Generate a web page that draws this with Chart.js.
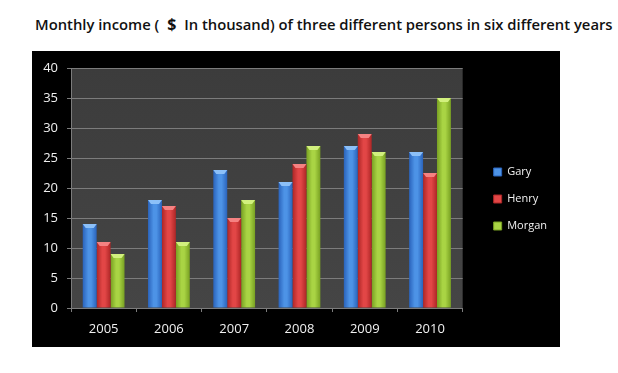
<!DOCTYPE html>
<html>
<head>
<meta charset="utf-8">
<script src="https://cdn.jsdelivr.net/npm/chart.js@4"></script>
<style>
    html, body { margin: 0; padding: 0; background: #fff; }
    body { width: 618px; height: 373px; position: relative; overflow: hidden; }
    #titulo {
        position: absolute; left: 35px; top: 14px;
        font-family: 'Open Sans', sans-serif; font-weight: 600; font-size: 14.8px;
        color: #111; white-space: nowrap; line-height: 20px;
    }
    #titulo .dolar { font-size: 16px; font-weight: 700; margin: 0 4px; }
    #caja {
        position: absolute; left: 32px; top: 51px; width: 528px; height: 296px;
        background: #000;
    }
</style>
</head>
<body>
<div id="titulo">Monthly income ( <span class="dolar">$</span> In thousand) of three different persons in six different years</div>
<div id="caja"><canvas id="chart-ingresos" width="528" height="296"></canvas></div>
<script>
// ============================================
// DATOS
// ============================================

const anios = ['2005', '2006', '2007', '2008', '2009', '2010'];
const gary = [14, 18, 23, 21, 27, 26];
const henry = [11, 17, 15, 24, 29, 22.5];
const morgan = [9, 11, 18, 27, 26, 35];
const ticksY = [0, 5, 10, 15, 20, 25, 30, 35, 40];

// ============================================
// COLORES
// ============================================

const colores = {
    gary:   { base: '#4d93e6', oscuro: '#2a63bb', claro: '#8cc0f8' },
    henry:  { base: '#e24646', oscuro: '#ad2626', claro: '#f58282' },
    morgan: { base: '#a9d444', oscuro: '#78a022', claro: '#d2f07e' },
    texto: '#f0f0f0',
    grid: '#7c7c7c'
};

// Fondo gris del area de trazado
const fondoPlot = {
    id: 'fondoPlot',
    beforeDraw(chart) {
        const { ctx, chartArea: a } = chart;
        const g = ctx.createLinearGradient(0, a.top, 0, a.bottom);
        g.addColorStop(0, '#3c3c3c');
        g.addColorStop(1, '#454545');
        ctx.save();
        ctx.fillStyle = g;
        ctx.fillRect(a.left, a.top, a.right - a.left, a.bottom - a.top);
        ctx.restore();
    }
};

// Degradado horizontal en cada barra + tapa biselada
const barras3d = {
    id: 'barras3d',
    beforeDatasetsDraw(chart) {
        const ctx = chart.ctx;
        chart.data.datasets.forEach((ds, i) => {
            const c = ds._pal;
            chart.getDatasetMeta(i).data.forEach(bar => {
                const x0 = bar.x - bar.width / 2;
                const g = ctx.createLinearGradient(x0, 0, x0 + bar.width, 0);
                g.addColorStop(0, c.oscuro);
                g.addColorStop(0.4, c.base);
                g.addColorStop(0.6, c.base);
                g.addColorStop(1, c.oscuro);
                bar.options.backgroundColor = g;
            });
        });
    },
    afterDatasetsDraw(chart) {
        const ctx = chart.ctx;
        chart.data.datasets.forEach((ds, i) => {
            const c = ds._pal;
            chart.getDatasetMeta(i).data.forEach(bar => {
                const x0 = bar.x - bar.width / 2;
                const x1 = bar.x + bar.width / 2;
                const y = bar.y;
                ctx.save();
                ctx.fillStyle = c.claro;
                ctx.beginPath();
                ctx.moveTo(x0, y);
                ctx.lineTo(x1, y);
                ctx.lineTo(x1 - 3, y + 4);
                ctx.lineTo(x0 + 3, y + 4);
                ctx.closePath();
                ctx.fill();
                ctx.restore();
            });
        });
    }
};

const fuente = { family: "'Open Sans', sans-serif", size: 13 };

// color scriptable: cada barra recibe su propio objeto de opciones
const colorBarra = ctx => ctx.dataset._pal.base;

new Chart(document.getElementById('chart-ingresos'), {
    type: 'bar',
    data: {
        labels: anios,
        datasets: [
            { label: 'Gary', data: gary, backgroundColor: colorBarra, _pal: colores.gary },
            { label: 'Henry', data: henry, backgroundColor: colorBarra, _pal: colores.henry },
            { label: 'Morgan', data: morgan, backgroundColor: colorBarra, _pal: colores.morgan }
        ]
    },
    options: {
        responsive: false,
        animation: false,
        layout: { padding: { top: 0, left: 0, right: 3, bottom: 0 } },
        datasets: {
            bar: { barPercentage: 1, categoryPercentage: 0.64, borderWidth: 0 }
        },
        plugins: {
            legend: {
                position: 'right',
                labels: {
                    color: colores.texto,
                    font: { family: "'Open Sans', sans-serif", size: 11 },
                    boxWidth: 8,
                    boxHeight: 8,
                    padding: 16,
                    generateLabels(chart) {
                        return chart.data.datasets.map((ds, i) => ({
                            text: ds.label,
                            fillStyle: ds._pal.base,
                            strokeStyle: ds._pal.oscuro,
                            lineWidth: 1,
                            fontColor: colores.texto,
                            datasetIndex: i,
                            hidden: false
                        }));
                    }
                }
            },
            tooltip: { enabled: false }
        },
        scales: {
            x: {
                grid: { drawOnChartArea: false, drawTicks: true, tickLength: 4, color: colores.grid, offset: true },
                border: { color: colores.grid },
                ticks: { color: colores.texto, font: fuente, padding: 9 },
                afterFit(s) { s.height = 39; }
            },
            y: {
                min: 0,
                max: 40,
                afterBuildTicks(s) { s.ticks = ticksY.map(v => ({ value: v })); },
                grid: { color: colores.grid, tickLength: 4 },
                border: { color: colores.grid },
                ticks: { color: colores.texto, font: fuente, padding: 9 },
                afterFit(s) { s.width = 39; }
            },
            hueco: {
                position: 'right',
                display: true,
                grid: { display: false },
                border: { display: false },
                ticks: { display: false },
                afterFit(s) { s.width = 15; }
            },
            margenSup: {
                type: 'category',
                position: 'top',
                display: true,
                grid: { display: false },
                border: { display: false },
                ticks: { display: false },
                afterFit(s) { s.height = 17; }
            }
        }
    },
    plugins: [fondoPlot, barras3d]
});
</script>
</body>
</html>
